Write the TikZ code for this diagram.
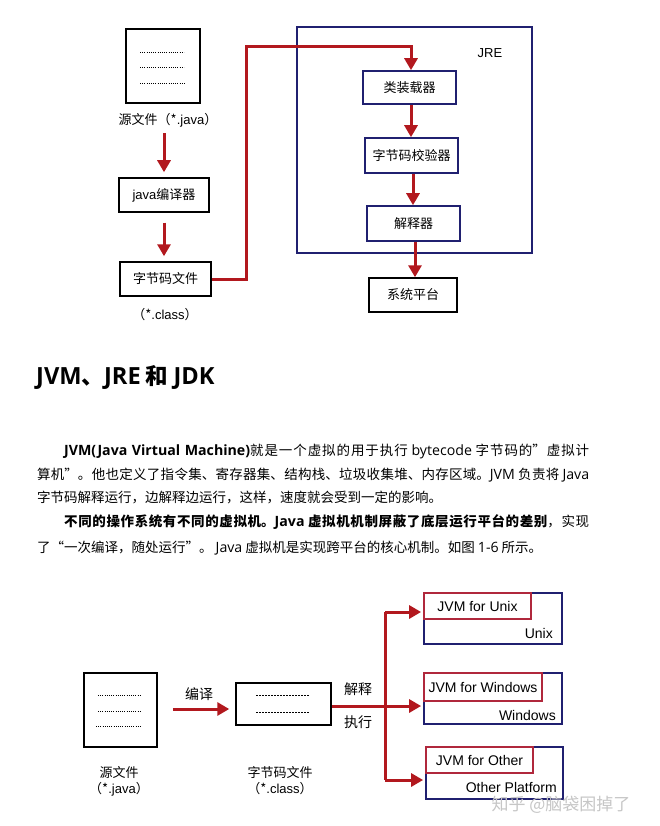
\documentclass[tikz,border=0pt]{standalone}
\usepackage{fontspec}
\setmainfont{Noto Sans CJK SC}
\newfontfamily\lat{Open Sans}[Scale=1.05]
\newfontfamily\arialf{Liberation Sans}
\usetikzlibrary{arrows.meta,calc}
\definecolor{ared}{RGB}{178,24,30}
\definecolor{navy}{RGB}{32,32,112}
\definecolor{ired}{RGB}{176,40,60}
\XeTeXlinebreaklocale "zh"
\XeTeXlinebreakskip=0pt plus 2pt minus 1pt
\tikzset{
  tip/.tip={Triangle[length=12pt,width=13pt]},
  redarr/.style={draw=ared, line width=3pt, -tip},
  redln/.style={draw=ared, line width=3pt},
  bbox/.style={draw=black, line width=1.5pt, fill=white, inner sep=0pt, font=\fontsize{13}{15}\selectfont},
  nbox/.style={draw=navy, line width=1.6pt, fill=white, inner sep=0pt, font=\fontsize{13}{15}\selectfont},
  lbl/.style={inner sep=0pt, font=\fontsize{13}{15}\selectfont},
  jvmlbl/.style={inner sep=0pt, font=\arialf\fontsize{14}{16}\selectfont},
  dotln/.style={line width=0.9pt, dash pattern=on 0.9pt off 1.3pt},
  dashln/.style={line width=0.9pt, dash pattern=on 2pt off 1pt},
  bodyline/.style={anchor=west, inner sep=0pt, font=\fontsize{13.5}{16}\selectfont},
}
\begin{document}
\begin{tikzpicture}[x=1pt,y=-1pt]
\useasboundingbox (0,0) rectangle (659,826);
\fill[white] (0,0) rectangle (659,826);

% ---------- top diagram ----------
\node[bbox, minimum width=74pt, minimum height=74pt] (src1) at (163,66) {};
\draw[dotln] (140,52) -- (184,52);
\draw[dotln] (140,67) -- (184,67);
\draw[dotln] (140,83) -- (186,83);
\node[lbl] (src1lab) at (168,120) {源文件（*{\arialf.java}）};
\node[bbox, minimum width=90pt, minimum height=34pt] (javac) at (164,195) {{\arialf java}编译器};
\node[bbox, minimum width=91pt, minimum height=34pt] (bc1) at (165.5,279) {字节码文件};
\node[lbl] (bc1lab) at (165,315) {（*{\arialf.class}）};

\draw[redarr, shorten <=6pt, shorten >=5pt] (javac.north |- src1lab.south) -- (javac.north);
\draw[redarr, shorten <=10pt, shorten >=5pt] (javac.south) -- (javac.south |- bc1.north);

\node[draw=navy, line width=1.6pt, minimum width=235pt, minimum height=226pt, inner sep=0pt] (jre) at (414.5,140) {};
\node[inner sep=0pt, font=\arialf\fontsize{13}{15}\selectfont] (jrelab) at (490,53) {JRE};
\node[nbox, minimum width=93pt, minimum height=33pt] (loader) at (409.5,87.5) {类装载器};
\node[nbox, minimum width=93pt, minimum height=35pt] (verif) at (411.5,155.5) {字节码校验器};
\node[nbox, minimum width=93pt, minimum height=35pt] (interp) at (413.5,223.5) {解释器};
\node[bbox, minimum width=88pt, minimum height=34pt] (plat) at (413,295) {系统平台};

\coordinate (k1) at (246,47);
\draw[redarr] (bc1.east) -| (k1) -| (loader.north -| 411,0);
\draw[redarr] (loader.south -| 411,0) -- (verif.north -| 411,0);
\draw[redarr] (verif.south -| 413,0) -- (interp.north -| 413,0);
\draw[redarr] (interp.south -| 415,0) -- (plat.north -| 415,0);

% ---------- heading & text ----------
\node[anchor=west, inner sep=0pt, font=\bfseries\fontsize{22.5}{26}\selectfont] (head) at (36,377) {{\lat JVM}、{\lat JRE} 和 {\lat JDK}};

\node[bodyline] (l1) at (37,451) {\parbox{552pt}{\parfillskip=0pt\hspace*{2em}{\lat\bfseries JVM(Java Virtual Machine)}就是一个虚拟的用于执行 {\lat bytecode} 字节码的”虚拟计\par}};
\node[bodyline] (l2) at (37,475) {\parbox{552pt}{\parfillskip=0pt 算机”。他也定义了指令集、寄存器集、结构栈、垃圾收集堆、内存区域。{\lat JVM} 负责将 {\lat Java}\par}};
\node[bodyline] (l3) at (37,498) {字节码解释运行，边解释边运行，这样，速度就会受到一定的影响。};
\node[bodyline] (l4) at (37,522) {\parbox{552pt}{\parfillskip=0pt\hspace*{2em}{\bfseries 不同的操作系统有不同的虚拟机。{\lat Java} 虚拟机机制屏蔽了底层运行平台的差别}，实现\par}};
\node[bodyline] (l5) at (37,548) {了“一次编译，随处运行”。 {\lat Java} 虚拟机是实现跨平台的核心机制。如图 {\lat 1-6} 所示。};

% ---------- bottom diagram ----------
\node[bbox, minimum width=73pt, minimum height=74pt] (src2) at (120.5,710) {};
\draw[dotln] (98,695) -- (141,695);
\draw[dotln] (98,711) -- (141,711);
\draw[dotln] (96,726) -- (142,726);
\node[lbl] (src2lab) at (119,773) {源文件};
\node[lbl] (src2lab2) at (119,789) {（*{\arialf.java}）};

\node[bbox, minimum width=95pt, minimum height=42pt] (bc2) at (283.5,704) {};
\draw[dashln] (256,695) -- (309,695);
\draw[dashln] (256,712) -- (309,712);
\node[lbl] (bc2lab) at (280,773) {字节码文件};
\node[lbl] (bc2lab2) at (280,789) {（*{\arialf.class}）};

\draw[redarr, shorten <=15pt, shorten >=6pt] (src2.east |- 0,709) -- (bc2.west |- 0,709);
\node[lbl, font=\fontsize{14}{16}\selectfont] (compile) at (199,694) {编译};

\coordinate (hub) at (385,706);
\coordinate (t1) at (385,612);
\coordinate (t3) at (385,780);
\draw[redln] (bc2.east |- hub) -- (hub);
\node[lbl, font=\fontsize{14}{16}\selectfont] (interpl) at (358,689) {解释};
\node[lbl, font=\fontsize{14}{16}\selectfont] (execl) at (358,722) {执行};
\draw[redln] (t1) -- (t3);

\node[draw=navy, line width=1.8pt, minimum width=138pt, minimum height=51pt, inner sep=0pt] (unix) at (493,618.5) {};
\node[draw=ired, line width=1.8pt, minimum width=107pt, minimum height=26pt, inner sep=0pt] (unixin) at (477.5,606) {};
\node[jvmlbl] at (unixin.center) {JVM for Unix};
\node[jvmlbl, anchor=east] at (553,633) {Unix};

\node[draw=navy, line width=1.8pt, minimum width=138pt, minimum height=51pt, inner sep=0pt] (win) at (493,698.5) {};
\node[draw=ired, line width=1.8pt, minimum width=118pt, minimum height=28pt, inner sep=0pt] (winin) at (483,687) {};
\node[jvmlbl] at (winin.center) {JVM for Windows};
\node[jvmlbl, anchor=east] at (556,715) {Windows};

\node[draw=navy, line width=1.8pt, minimum width=137pt, minimum height=52pt, inner sep=0pt] (other) at (494.5,773) {};
\node[draw=ired, line width=1.8pt, minimum width=107pt, minimum height=26pt, inner sep=0pt] (otherin) at (479.5,760) {};
\node[jvmlbl] at (otherin.center) {JVM for Other};
\node[jvmlbl, anchor=east] at (557,787) {Other Platform};

\draw[redarr, shorten >=2pt] (t1) -- (t1 -| unix.west);
\draw[redarr, shorten >=2pt] (hub) -- (hub -| win.west);
\draw[redarr, shorten >=2pt] (t3) -- (t3 -| other.west);

\node[inner sep=0pt, text=gray!45, font=\fontsize{17}{19}\selectfont] (wm) at (561,805) {知乎 @脑袋困掉了};
\end{tikzpicture}
\end{document}
